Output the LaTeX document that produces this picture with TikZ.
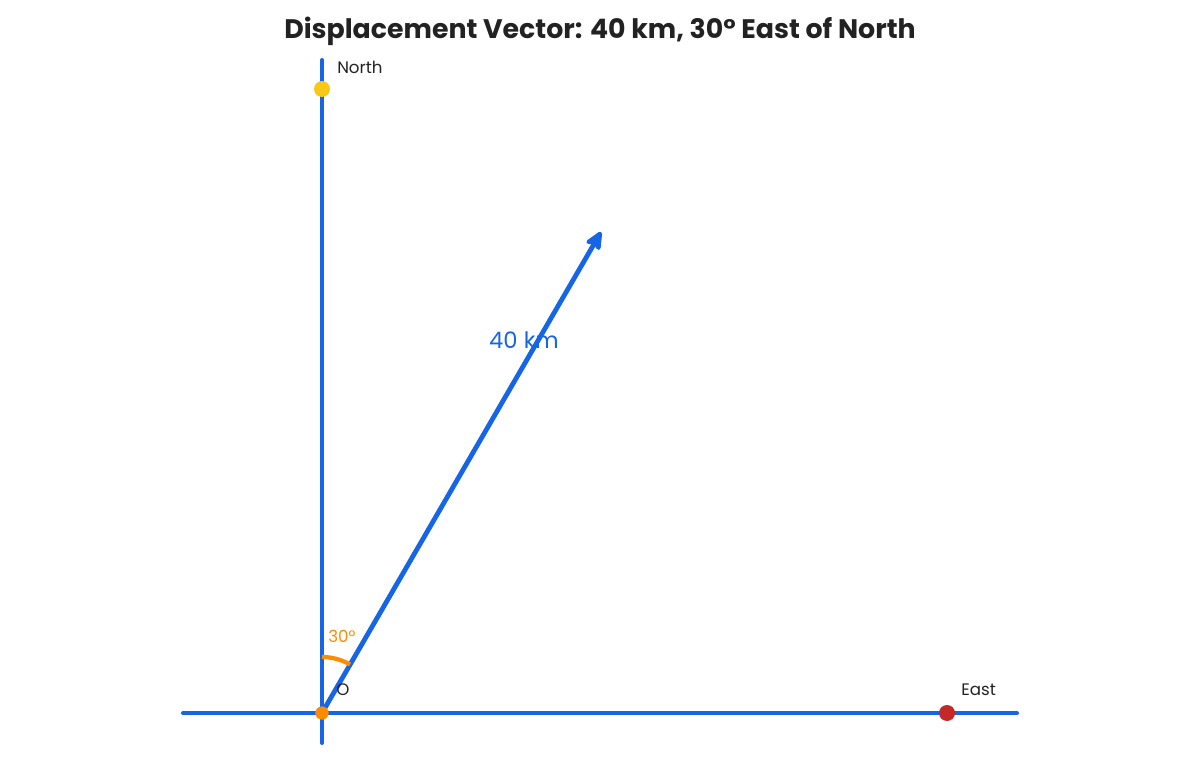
\documentclass[tikz,border=0pt]{standalone}
\usepackage{fontspec}
\setmainfont{Poppins}
\usetikzlibrary{arrows.meta}
\definecolor{axisblue}{HTML}{1565E6}
\definecolor{vecblue}{HTML}{1565E6}
\definecolor{angorange}{HTML}{FF8C00}
\definecolor{northgold}{HTML}{F7C815}
\definecolor{eastred}{HTML}{C62828}
\definecolor{txt}{HTML}{222222}
\begin{document}
\begin{tikzpicture}[x=0.75pt,y=-0.75pt,
  axis/.style={draw=axisblue,line width=3pt,line cap=round},
  vec/.style={draw=vecblue,line width=3.6pt,line cap=round,-{Stealth[length=17pt,width=15pt,inset=4pt,round]}},
  dot/.style={circle,inner sep=0pt,minimum size=12pt},
  lbl/.style={text=txt,font=\fontsize{12.5}{14}\selectfont,inner sep=0pt}]
\useasboundingbox (0,0) rectangle (1200,762);
\node[font=\fontsize{20.1}{24}\selectfont\bfseries,text=txt] (title) at (600,31) {Displacement Vector: 40 km, 30° East of North};
\coordinate (O) at (322,713);
\coordinate (W) at (183,713);
\coordinate (E) at (1017,713);
\coordinate (S) at (322,743);
\coordinate (N) at (322,60);
\coordinate (tip) at (601,232);
\draw[axis] (W) -- (E);
\draw[axis] (S) -- (N);
\draw[vec] (O) -- (tip);
\draw[draw=angorange,line width=3.2pt] (322,657) arc[start angle=-90,end angle=-60,radius=56];
\node[dot,fill=northgold] (north) at (322,89) {};
\node[dot,fill=eastred] (east) at (947,713) {};
\node[dot,fill=angorange,minimum size=10pt] (origin) at (O) {};
\node[lbl,anchor=west] (northlbl) at (337,67) {North};
\node[lbl,anchor=west] (eastlbl) at (961,690) {East};
\node[lbl,anchor=west] (olbl) at (336,690) {O};
\node[lbl,anchor=west,text=angorange] (anglbl) at (328,636) {30°};
\node[lbl,anchor=center,text=vecblue,font=\fontsize{17}{19}\selectfont] (veclbl) at (524,340) {40 km};
\end{tikzpicture}
\end{document}
